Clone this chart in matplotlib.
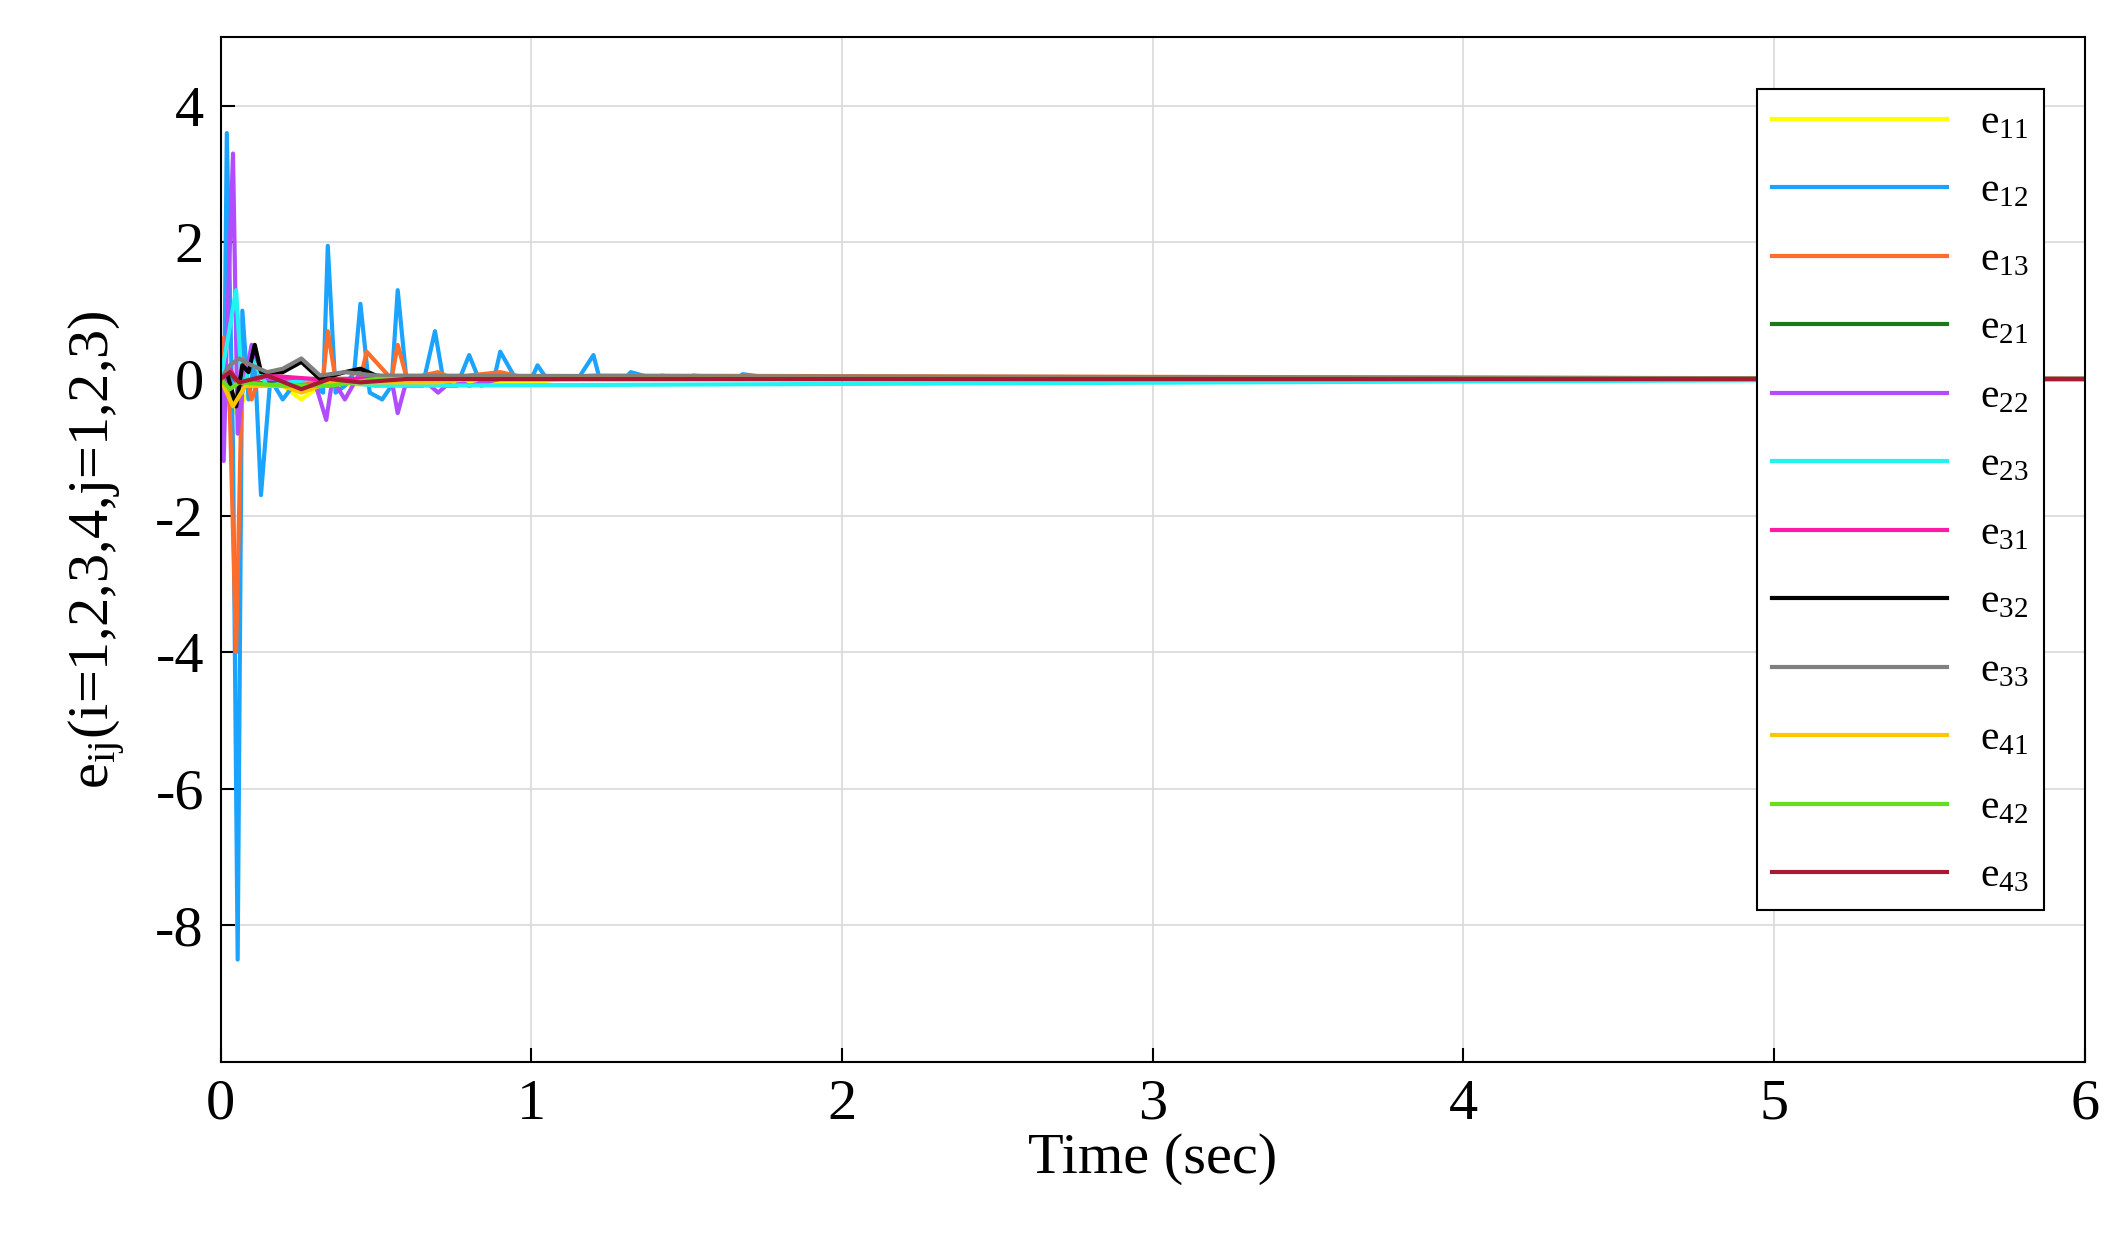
import matplotlib
matplotlib.use("Agg")
from matplotlib import pyplot as plt

plt.rcParams['font.family'] = ['Liberation Serif', 'DejaVu Serif']
plt.rcParams['mathtext.fontset'] = 'custom'
plt.rcParams['mathtext.rm'] = 'Liberation Serif'
plt.rcParams['mathtext.it'] = 'Liberation Serif'
plt.rcParams['axes.unicode_minus'] = False

# read-off samples (time in sec, error value)
t12 = [0, 0.01, 0.02, 0.04, 0.055, 0.07, 0.09, 0.11, 0.13, 0.16, 0.2, 0.25, 0.3, 0.33, 0.345, 0.37, 0.4, 0.43, 0.45, 0.48, 0.52, 0.55, 0.57, 0.6, 0.65, 0.69, 0.72, 0.76, 0.8, 0.84, 0.88, 0.9, 0.95, 1.0, 1.02, 1.05, 1.15, 1.2, 1.22, 1.3, 1.32, 1.4, 1.42, 1.5, 1.52, 1.66, 1.68, 1.8, 6]
e12 = [0, -1.0, 3.6, -1.0, -8.5, 1.0, -0.3, 0.3, -1.7, 0.0, -0.3, 0.0, -0.1, -0.2, 1.95, -0.2, -0.1, 0.1, 1.1, -0.2, -0.3, -0.1, 1.3, -0.1, -0.1, 0.7, -0.1, -0.1, 0.35, -0.1, 0.0, 0.4, 0.0, 0.0, 0.2, 0.0, 0.0, 0.35, 0.0, 0.0, 0.1, 0.0, 0.05, 0.0, 0.05, 0.0, 0.07, 0.0, 0.0]
t13 = [0, 0.01, 0.03, 0.05, 0.07, 0.1, 0.13, 0.2, 0.33, 0.345, 0.37, 0.45, 0.47, 0.55, 0.57, 0.6, 0.7, 0.75, 0.8, 0.9, 1.0, 1.2, 6]
e13 = [0, 0.6, -0.5, -4.0, 0.3, -0.3, 0.1, -0.1, 0.0, 0.7, 0.0, 0.0, 0.4, 0.0, 0.5, 0.0, 0.1, 0.0, 0.05, 0.1, 0.0, 0.05, 0.0]
t22 = [0, 0.01, 0.02, 0.04, 0.055, 0.07, 0.1, 0.13, 0.15, 0.3, 0.34, 0.36, 0.4, 0.45, 0.5, 0.55, 0.57, 0.6, 0.65, 0.7, 0.75, 0.8, 0.9, 1.2, 6]
e22 = [0, -1.2, 0.6, 3.3, -0.8, -0.2, 0.5, 0.1, 0.0, 0.0, -0.6, 0.0, -0.3, 0.1, -0.1, 0.0, -0.5, 0.0, 0.0, -0.2, 0.0, -0.1, 0.0, 0.0, 0.0]
t23 = [0, 0.02, 0.05, 0.07, 0.1, 0.15, 0.3, 0.5, 6]
e23 = [0, 0.5, 1.3, -0.2, 0.3, -0.1, 0.0, -0.1, 0.0]
t32 = [0, 0.02, 0.05, 0.07, 0.09, 0.11, 0.13, 0.2, 0.26, 0.32, 0.4, 0.45, 0.5, 0.6, 6]
e32 = [0, 0.1, -0.4, 0.2, 0.1, 0.5, 0.1, 0.1, 0.25, 0.0, 0.1, 0.15, 0.05, 0.0, 0.0]
t33 = [0, 0.03, 0.06, 0.1, 0.15, 0.2, 0.26, 0.32, 0.4, 0.5, 6]
e33 = [0, 0.2, 0.3, 0.2, 0.1, 0.15, 0.3, 0.05, 0.1, 0.05, 0.0]
t11 = [0, 0.03, 0.05, 0.1, 0.2, 0.26, 0.32, 0.6, 1.0, 1.1, 6]
e11 = [0, -0.3, -0.5, -0.1, -0.1, -0.3, -0.1, -0.05, -0.05, 0.0, 0.0]
t41 = [0, 0.04, 0.08, 0.2, 0.26, 0.35, 0.7, 0.8, 6]
e41 = [0, -0.4, -0.1, -0.1, -0.2, -0.05, -0.05, 0.0, 0.0]
t21 = [0, 0.03, 0.06, 0.15, 0.3, 6]
e21 = [0, 0.1, -0.1, -0.05, 0.0, 0.0]
t42 = [0, 0.03, 0.06, 0.2, 0.35, 0.5, 6]
e42 = [0, -0.15, -0.05, -0.1, -0.1, 0.0, 0.0]
t31 = [0, 0.03, 0.06, 0.15, 0.3, 6]
e31 = [0, 0.15, -0.1, 0.05, 0.0, 0.0]
t43 = [0, 0.03, 0.06, 0.15, 0.26, 0.35, 0.45, 0.6, 6]
e43 = [0, 0.1, -0.05, 0.05, -0.15, 0.0, -0.05, 0.0, 0.0]

series = [
    ('11', t11, e11, '#ffff00'), ('12', t12, e12, '#1aa3ff'),
    ('13', t13, e13, '#ff6d2a'), ('21', t21, e21, '#1a7a1a'),
    ('22', t22, e22, '#b14dff'), ('23', t23, e23, '#22f2f2'),
    ('31', t31, e31, '#ff1aa8'), ('32', t32, e32, '#000000'),
    ('33', t33, e33, '#808080'), ('41', t41, e41, '#ffc600'),
    ('42', t42, e42, '#66e01a'), ('43', t43, e43, '#a81a33'),
]

fig = plt.figure(figsize=(21.21, 12.48), dpi=100)
ax = fig.add_axes([0.104, 0.149, 0.879, 0.821])
for name, t, e, c in series:
    ax.plot(t, e, color=c, lw=3, label='e$_{%s}$' % name)

ax.set_xlim(0, 6)
ax.set_ylim(-10, 5)
ax.set_xticks(range(0, 7))
ax.set_yticks([-8, -6, -4, -2, 0, 2, 4])
ax.grid(True, color='#d9d9d9', lw=1.2)
ax.tick_params(labelsize=42, direction='in', length=10, width=1.5, pad=12)
for s in ax.spines.values():
    s.set_linewidth(1.5)
ax.set_xlabel('Time (sec)', fontsize=42, labelpad=2)
ax.set_ylabel('e$_{ij}$(i=1,2,3,4,j=1,2,3)', fontsize=42, labelpad=20)
leg = ax.legend(loc='upper right', fontsize=30, fancybox=False, framealpha=1,
                edgecolor='black', handlelength=4.2, labelspacing=0.72,
                borderpad=0.35, bbox_to_anchor=(0.989, 0.97))
leg.get_frame().set_linewidth(1.5)
fig.savefig('out.png')
